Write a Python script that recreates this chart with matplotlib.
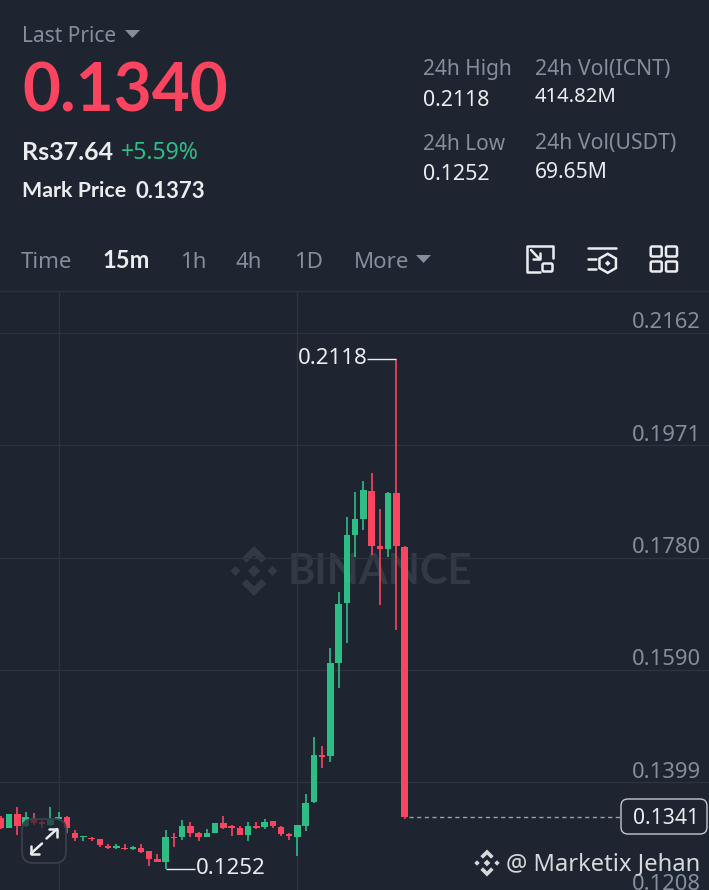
import matplotlib
matplotlib.use("Agg")
import matplotlib.pyplot as plt
from matplotlib.patches import FancyBboxPatch, Polygon, RegularPolygon

plt.rcParams['font.family'] = ['Noto Sans', 'DejaVu Sans']
BOLD = ['Lato', 'DejaVu Sans']

# candles, oldest first
opens = [.13386, .13217, .13454, .13251, .13352, .13318, .13268, .13369, .13403, .13132,
         .13059, .13047, .13021, .12916, .12882, .12882, .12860, .12877, .12826, .12695,
         .12644, .13069, .13059, .13256, .13132, .13069, .13137, .13296, .13256, .13212,
         .13103, .13256, .13228, .13330, .13228, .13115, .13069, .13256, .13653, .14456,
         .14439, .16023, .17031, .18193, .18462, .18943, .18004, .17953, .18904, .17992]
highs = [.13420, .13454, .13573, .13488, .13471, .13352, .13573, .13488, .13420, .13183,
         .13086, .13064, .13035, .12950, .12950, .12945, .12906, .12945, .12826, .12775,
         .13183, .13132, .13347, .13318, .13144, .13195, .13307, .13420, .13268, .13256,
         .13313, .13324, .13375, .13330, .13245, .13137, .13268, .13794, .14767, .14609,
         .16267, .17228, .18491, .18926, .19113, .19238, .18627, .18916, .2118, .18004]
lows = [.13200, .13217, .13098, .13234, .13268, .13217, .13251, .13352, .13132, .12996,
        .12996, .12996, .12894, .12855, .12855, .12843, .12843, .12797, .12577, .12634,
        .1252, .12899, .13018, .13069, .13001, .13064, .13127, .13195, .13081, .13098,
        .13001, .13200, .13195, .13217, .13086, .13013, .12741, .13171, .13636, .14240,
        .14342, .15588, .16352, .17812, .18276, .17851, .17002, .17812, .16578, .13364]
closes = [.13217, .13454, .13251, .13403, .13302, .13285, .13352, .13403, .13217, .13047,
          .13086, .13021, .12919, .12882, .12916, .12855, .12889, .12814, .12685, .12644,
          .13059, .13052, .13251, .13132, .13059, .13127, .13296, .13212, .13222, .13103,
          .13245, .13222, .13324, .13245, .13115, .13081, .13268, .13636, .14456, .14427,
          .16012, .17014, .18191, .18462, .18955, .18009, .17948, .18904, .18009, .13408]

price_ticks = [0.2162, 0.1971, 0.1780, 0.1590, 0.1399, 0.1208]
time_grid = [7, 36]
last_close = 0.1341
high_24h = 0.2118
low_24h = 0.1252
high_idx = 48
low_idx = 20

BG = '#1e2530'
GRID = '#2e343e'
GREEN = '#2ebd85'
RED = '#fb4560'
GREY = '#848e9c'
WHITE = '#eaecef'

W, H = 709, 890
fig = plt.figure(figsize=(W / 100, H / 100), dpi=100, facecolor=BG)


def pixel_axes(z):
    a = fig.add_axes([0, 0, 1, 1], zorder=z)
    a.set_xlim(0, W)
    a.set_ylim(H, 0)
    a.axis('off')
    a.patch.set_alpha(0)
    return a


def logo(a, cx, cy, r, color):
    # binance diamond mark
    top = [(0, 1), (.49, .51), (.30, .32), (0, .62), (-.30, .32), (-.49, .51)]
    a.add_patch(Polygon([(cx + x * r, cy - y * r) for x, y in top], fc=color, ec='none'))
    a.add_patch(Polygon([(cx + x * r, cy + y * r) for x, y in top], fc=color, ec='none'))
    for dx, s in [(0, .25), (-.74, .2), (.74, .2)]:
        pts = [(dx + s, 0), (dx, s), (dx - s, 0), (dx, -s)]
        a.add_patch(Polygon([(cx + x * r, cy + y * r) for x, y in pts], fc=color, ec='none'))


back = pixel_axes(0)
logo(back, 254, 571, 25, '#343a45')
back.text(288, 572, 'BINANCE', fontsize=30, family=BOLD, fontweight='bold', color='#343a45', va='center')

# chart
ax = fig.add_axes([0, 0, 1, 599 / H], zorder=1)
ax.patch.set_alpha(0)
ax.set_xlim(-0.121, 85.97)
ax.set_ylim(0.12163, 0.22333)
ax.axis('off')
for p in price_ticks:
    ax.axhline(p, color=GRID, lw=1, zorder=1)
    ax.annotate(f'{p:.4f}', xy=(1, p), xycoords=ax.get_yaxis_transform(), xytext=(-6, 7.2),
                textcoords='offset points', ha='right', va='center', fontsize=15.8, color=GREY,
                annotation_clip=False, zorder=5)
for t in time_grid:
    ax.axvline(t, color=GRID, lw=1, zorder=1)

for i in range(len(opens)):
    c = GREEN if closes[i] >= opens[i] else RED
    ax.vlines(i, lows[i], highs[i], color=c, lw=1.2, zorder=3)
    ax.bar(i, abs(closes[i] - opens[i]), bottom=min(opens[i], closes[i]), width=0.78, color=c, zorder=3)

ax.hlines(last_close, 49.55, 75.3, color='#9aa0aa', lw=1, linestyles=(0, (3, 2.5)), zorder=2)

# high / low leaders
ax.hlines(high_24h, high_idx - 3.5, high_idx, color=WHITE, lw=1, zorder=4)
ax.text(high_idx - 3.5, high_24h, f'{high_24h:.4f}', color=WHITE, fontsize=16, ha='right', va='center')
ax.hlines(low_24h, low_idx, low_idx + 3.6, color=WHITE, lw=1, zorder=4)
ax.text(low_idx + 3.7, low_24h, f'{low_24h:.4f}', color=WHITE, fontsize=16, ha='left', va='center')

ui = pixel_axes(2)

# header
ui.text(22, 36, 'Last Price', fontsize=15, color=GREY, va='center')
ui.add_patch(Polygon([(125, 30), (140, 30), (132.5, 38)], fc=GREY, ec='none'))
ui.text(22, 93, '0.1340', fontsize=47.2, family=BOLD, fontweight='bold', color=RED, va='center')
ui.text(22, 152, 'Rs37.64', fontsize=18, family=BOLD, fontweight='bold', color=WHITE, va='center')
ui.text(121, 153, '+5.59%', fontsize=16.6, color=GREEN, va='center')
ui.text(22, 191, 'Mark Price', fontsize=15.4, family=BOLD, fontweight='bold', color=WHITE, va='center')
ui.text(135, 191, '0.1373', fontsize=16, family=BOLD, fontweight='bold', color=WHITE, va='center')

ui.text(423, 70, '24h High', fontsize=15, color=GREY, va='center')
ui.text(423, 100, '0.2118', fontsize=15.4, color=WHITE, va='center')
ui.text(423, 145, '24h Low', fontsize=15, color=GREY, va='center')
ui.text(423, 174, '0.1252', fontsize=15.4, color=WHITE, va='center')
ui.text(535, 69, '24h Vol(ICNT)', fontsize=15.3, color=GREY, va='center')
ui.text(535, 97, '414.82M', fontsize=14.6, color=WHITE, va='center')
ui.text(535, 143, '24h Vol(USDT)', fontsize=15.3, color=GREY, va='center')
ui.text(535, 172, '69.65M', fontsize=15.2, color=WHITE, va='center')

# interval tabs
for x, s in [(21, 'Time'), (180, '1h'), (236, '4h'), (294, '1D'), (354, 'More')]:
    ui.text(x, 262, s, fontsize=16, color=GREY, va='center')
ui.text(102, 261, '15m', fontsize=17, family=BOLD, fontweight='bold', color=WHITE, va='center')
ui.add_patch(Polygon([(416, 255), (431, 255), (423.5, 263)], fc=GREY, ec='none'))
ui.plot([0, W], [290.5, 290.5], color=GRID, lw=1)

# toolbar icons
ic = dict(color=WHITE, lw=1.8, solid_capstyle='round', solid_joinstyle='round')
ui.plot([552.7, 552.7, 526.7, 526.7, 540], [258, 246, 246, 272, 272], **ic)
ui.add_patch(FancyBboxPatch((542.5, 263.5), 10, 8, boxstyle='round,pad=0,rounding_size=1.5', fc='none', ec=WHITE, lw=1.8))
ui.plot([531, 539.5], [250, 259], **ic)
ui.plot([533, 539.5, 539.5], [259, 259, 252.5], **ic)
ui.plot([588.3, 615.7], [248, 248], **ic)
ui.plot([588.3, 596], [259.3, 259.3], **ic)
ui.plot([588.3, 596], [269.3, 269.3], **ic)
ui.add_patch(RegularPolygon((607.7, 263.3), 6, radius=9.5, fc='none', ec=WHITE, lw=1.8))
ui.add_patch(RegularPolygon((607.7, 263.3), 4, radius=2.8, fc=WHITE, ec='none'))
for x in (650.7, 666):
    for y in (246.5, 261.5):
        ui.add_patch(FancyBboxPatch((x, y), 11, 10, boxstyle='round,pad=0,rounding_size=1.5', fc='none', ec=WHITE, lw=1.8))

# expand button
ui.add_patch(FancyBboxPatch((22, 819), 44, 44, boxstyle='round,pad=0,rounding_size=11', fc=BG, alpha=0.7, ec='none'))
ui.add_patch(FancyBboxPatch((22, 819), 44, 44, boxstyle='round,pad=0,rounding_size=11', fc='none', ec='#3a404b', lw=1.3))
ui.plot([46.5, 57], [838.5, 829], **ic)
ui.plot([49, 57, 57], [829, 829, 837], **ic)
ui.plot([31, 42], [853.5, 843.5], **ic)
ui.plot([31, 31, 39], [845.5, 853.5, 853.5], **ic)

# last price tag
ui.add_patch(FancyBboxPatch((621, 799), 86, 35, boxstyle='round,pad=0,rounding_size=7', fc=BG, ec='#c4c7cc', lw=1))
ui.text(666, 818, '0.1341', fontsize=15.2, color=WHITE, ha='center', va='center')

# repost watermark
logo(ui, 487, 863, 13.5, '#d5d8dc')
ui.text(506, 864, '@ Marketix Jehan', fontsize=17.1, color='#d5d8dc', va='center')

fig.savefig('out.png', dpi=100, facecolor=BG)
